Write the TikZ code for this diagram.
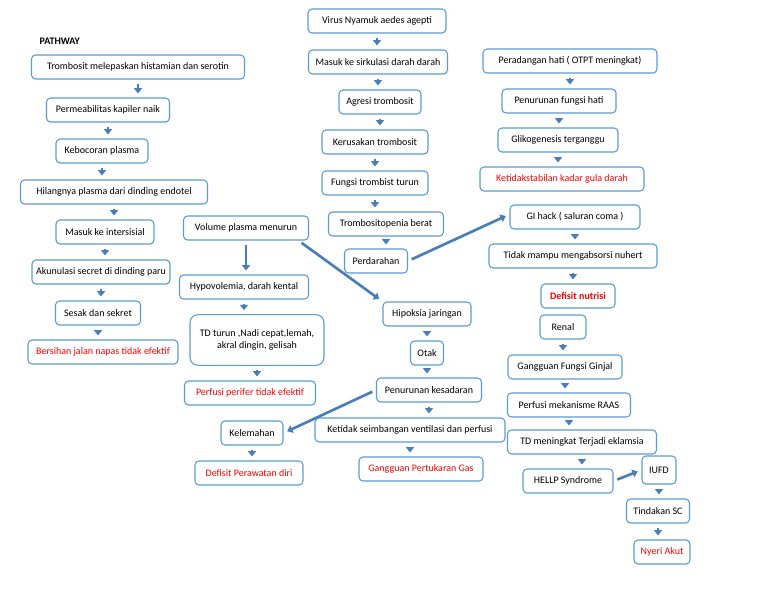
\documentclass[tikz,border=0pt]{standalone}
\usepackage{fontspec}
\setmainfont{Carlito}
\usetikzlibrary{arrows.meta}
\definecolor{boxline}{HTML}{5B9BD5}
\definecolor{arrowblue}{HTML}{4A7EBB}
\begin{document}
\begin{tikzpicture}[x=0.75pt,y=-0.75pt,
    box/.style={draw=boxline,thick,rounded corners=3pt,fill=white,
      minimum height=18pt,inner sep=2pt,font=\fontsize{7.5}{9}\selectfont},
    w/.style={minimum width=#1*0.75pt},
    alert/.style={box,text=red},
    flow/.style={draw=arrowblue,line width=2pt,-{Triangle[length=4pt,width=6pt]},shorten <=3pt,shorten >=3pt}]
  \useasboundingbox (0,0) rectangle (768,594);
  \node[font=\fontsize{7.5}{9}\selectfont\bfseries,anchor=west] (title) at (35,41) {PATHWAY};
  % left column
  \node[box,w=213] (t1) at (138,67) {Trombosit melepaskan histamian dan serotin};
  \node[box,w=123] (t2) at (108,110) {Permeabilitas kapiler naik};
  \node[box,w=92] (t3) at (102,151) {Kebocoran plasma};
  \node[box,w=187] (t4) at (114,192) {Hilangnya plasma dari dinding endotel};
  \node[box,w=98] (t5) at (105,232) {Masuk ke intersisial};
  \node[box,w=138] (t6) at (101,272) {Akunulasi secret di dinding paru};
  \node[box,w=85] (t7) at (98,313) {Sesak dan sekret};
  \node[alert,w=150] (t8) at (103,352) {Bersihan jalan napas tidak efektif};
  % plasma volume
  \node[box,w=125] (v1) at (246,228) {Volume plasma menurun};
  \node[box,w=129] (v2) at (244,287) {Hypovolemia, darah kental};
  \node[box,w=134,minimum height=38pt,align=center,rounded corners=6pt] (v3) at (257,340) {TD turun ,Nadi cepat,lemah,\\akral dingin, gelisah};
  \node[alert,w=131] (v4) at (250,393) {Perfusi perifer tidak efektif};
  \node[box,w=62] (k1) at (252,433) {Kelemahan};
  \node[alert,w=108] (k2) at (249,473) {Defisit Perawatan diri};
  % center column
  \node[box,w=138] (c1) at (377,21) {Virus Nyamuk aedes agepti};
  \node[box,w=139] (c2) at (378,62) {Masuk ke sirkulasi darah darah};
  \node[box,w=82] (c3) at (380,102) {Agresi trombosit};
  \node[box,w=106] (c4) at (375,142) {Kerusakan trombosit};
  \node[box,w=106] (c5) at (375,183) {Fungsi trombist turun};
  \node[box,w=115] (c6) at (386,224) {Trombositopenia berat};
  \node[box,w=63] (c7) at (376,261) {Perdarahan};
  \node[box,w=88] (h1) at (427,314) {Hipoksia jaringan};
  \node[box,w=33] (h2) at (427,353) {Otak};
  \node[box,w=105] (h3) at (429,390) {Penurunan kesadaran};
  \node[box,w=190] (h4) at (410,430) {Ketidak seimbangan ventilasi dan perfusi};
  \node[alert,w=124] (h5) at (421,469) {Gangguan Pertukaran Gas};
  % right column
  \node[box,w=174] (r1) at (570,61) {Peradangan hati ( OTPT meningkat)};
  \node[box,w=114] (r2) at (559,101) {Penurunan fungsi hati};
  \node[box,w=120] (r3) at (558,140) {Glikogenesis terganggu};
  \node[alert,w=164] (r4) at (562,179) {Ketidakstabilan kadar gula darah};
  \node[box,w=130] (g1) at (575,217) {GI hack ( saluran coma )};
  \node[box,w=168] (g2) at (573,256) {Tidak mampu mengabsorsi nuhert};
  \node[alert,w=74,font=\fontsize{7.5}{9}\selectfont\bfseries] (g3) at (578,296) {Defisit nutrisi};
  \node[box,w=46] (n1) at (563,327) {Renal};
  \node[box,w=114] (n2) at (565,367) {Gangguan Fungsi Ginjal};
  \node[box,w=123] (n3) at (569,405) {Perfusi mekanisme RAAS};
  \node[box,w=149] (n4) at (582,442) {TD meningkat Terjadi eklamsia};
  \node[box,w=90] (n5) at (568,481) {HELLP Syndrome};
  \node[box,w=34,minimum height=21pt] (i1) at (659,470) {IUFD};
  \node[box,w=63] (i2) at (658,511) {Tindakan SC};
  \node[alert,w=56] (i3) at (662,552) {Nyeri Akut};
  % short arrows
  \foreach \a/\b in {t1/t2,t2/t3,t3/t4,t4/t5,t5/t6,t6/t7,t7/t8,
      v1/v2,v2/v3,v3/v4,k1/k2,c1/c2,c2/c3,c3/c4,c4/c5,c5/c6,c6/c7,
      h1/h2,h2/h3,h3/h4,h4/h5,r1/r2,r2/r3,r3/r4,g1/g2,g2/g3,
      n1/n2,n2/n3,n3/n4,n4/n5,i1/i2,i2/i3}
    \draw[flow] (\a.south) -- (\a.south |- \b.north);
  % long arrows
  \draw[flow] ([xshift=-8pt]v1.south east) -- (h1.north west);
  \draw[flow] (c7.east) -- ([yshift=2pt]g1.west);
  \draw[flow] (h3.west) -- (k1.east);
  \draw[flow] (n5.east) -- (i1.west);
\end{tikzpicture}
\end{document}
